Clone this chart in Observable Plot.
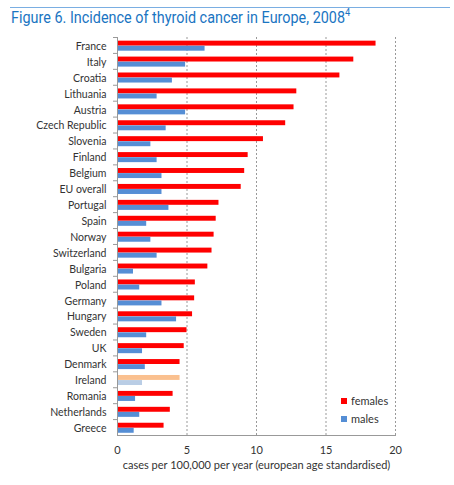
<!DOCTYPE html>
<html>
<head>
<meta charset="utf-8">
<script src="https://cdn.jsdelivr.net/npm/d3@7"></script>
<script src="https://cdn.jsdelivr.net/npm/@observablehq/plot@0.6"></script>
<style>
  body { margin: 0; background: #fff; }
  #wrap { position: relative; width: 454px; height: 485px; overflow: hidden; }
  .legend { position: absolute; font: 11px Lato, sans-serif; color: #333; display: flex; align-items: center; line-height: 12px; }
  .legend span.sw { display: inline-block; width: 6px; height: 6px; margin-right: 4px; }
  #title { position:absolute; left:11px; top:9px; font:17px Roboto, sans-serif; line-height:17px; color:#1a75c2; white-space:nowrap; transform-origin: 0 0; }
</style>
</head>
<body>
<div id="wrap">
  <div style="position:absolute;left:10px;top:7px;width:440px;border-top:1.5px solid #7aaee2"></div>
  <div id="title"><span id="tmain">Figure 6. Incidence of thyroid cancer in Europe, 2008</span><sup style="font-size:11px;vertical-align:7px;line-height:0">4</sup></div>
  <div id="chart" style="position:absolute;left:0;top:30px"></div>
  <div class="legend" style="left:341px;top:395px"><span class="sw" style="background:#ff0000"></span>females</div>
  <div class="legend" style="left:341px;top:413px"><span class="sw" style="background:#558ed5"></span>males</div>
</div>
<script>
const countries = ["France","Italy","Croatia","Lithuania","Austria","Czech Republic","Slovenia","Finland","Belgium","EU overall","Portugal","Spain","Norway","Switzerland","Bulgaria","Poland","Germany","Hungary","Sweden","UK","Denmark","Ireland","Romania","Netherlands","Greece"];
const females = [18.6,17.0,16.0,12.9,12.7,12.1,10.5,9.4,9.15,8.9,7.3,7.1,6.95,6.8,6.5,5.6,5.55,5.4,5.0,4.8,4.5,4.5,4.0,3.8,3.35];
const males = [6.3,4.9,3.95,2.85,4.9,3.5,2.4,2.85,3.2,3.2,3.7,2.1,2.4,2.85,1.15,1.6,3.2,4.25,2.1,1.8,2.0,1.8,1.3,1.6,1.2];
const xTicks = [0,5,10,15,20];
const highlighted = ["Ireland"];
const xLabel = "cases per 100,000 per year (european age standardised)";

const colors = {females: "#ff0000", males: "#558ed5", femalesLight: "#fac08f", malesLight: "#b9cde5"};

const rows = countries.map((c, i) => ({country: c, females: females[i], males: males[i], light: highlighted.includes(c)}));

const width = 454, height = 455, marginTop = 7, marginBottom = 50, marginLeft = 117, marginRight = 59;
const band = (height - marginTop - marginBottom) / countries.length;

const chart = Plot.plot({
  width, height, marginTop, marginBottom, marginLeft, marginRight,
  style: {fontFamily: "Lato, sans-serif", fontSize: "11px", color: "#333", background: "#fff"},
  x: {domain: [0, 20], ticks: xTicks},
  y: {domain: countries, padding: 0, round: false},
  marks: [
    Plot.gridX(xTicks.slice(1), {stroke: "#999", strokeOpacity: 1, strokeDasharray: "2,2"}),
    Plot.barX(rows, {y: "country", x: "females", fill: d => d.light ? colors.femalesLight : colors.females, insetTop: band * 0.23, insetBottom: band * 0.46}),
    Plot.barX(rows, {y: "country", x: "males", fill: d => d.light ? colors.malesLight : colors.males, insetTop: band * 0.55, insetBottom: band * 0.14}),
    Plot.ruleX([0], {stroke: "#999"}),
    Plot.frame({anchor: "bottom", stroke: "#999"}),
    Plot.axisY({tickSize: 4, tickFormat: () => "", dy: -band / 2, stroke: "#999", label: null}),
    Plot.axisY({tickSize: 0, tickPadding: 11, label: null, fill: "#333", fontSize: 10.5, dy: 1}),
    Plot.axisX(xTicks, {tickSize: 0, tickPadding: 11, fill: "#333", fontSize: 11, label: xLabel, labelAnchor: "center", labelOffset: 33, labelArrow: "none"})
  ]
});
document.getElementById("chart").appendChild(chart);

// fit the title text to its width in the reference (condensed face)
const tw = document.getElementById("tmain").getBoundingClientRect().width;
document.getElementById("title").style.transform = `scaleX(${334 / tw})`;
</script>
</body>
</html>
